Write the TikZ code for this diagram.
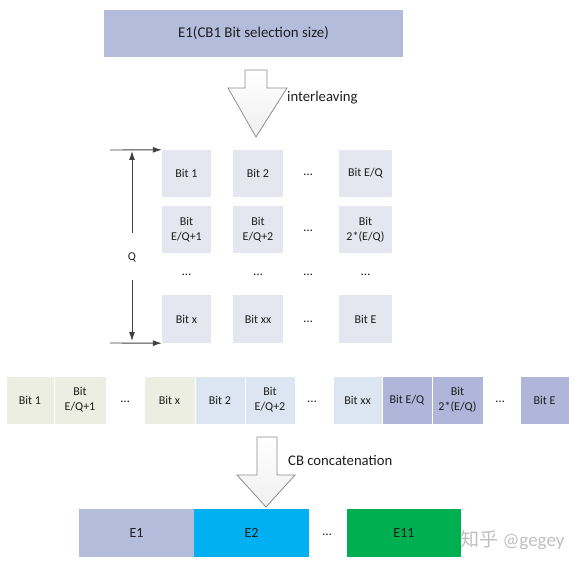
\documentclass[tikz,border=0pt]{standalone}
\usepackage{fontspec}
\setmainfont{Carlito}
\newfontfamily\cjkfont{Noto Sans CJK SC}
\usetikzlibrary{arrows.meta}
\definecolor{topfill}{RGB}{180,188,220}
\definecolor{gridfill}{RGB}{230,230,240}
\definecolor{greencell}{RGB}{236,238,226}
\definecolor{bluecell}{RGB}{220,230,242}
\definecolor{lavcell}{RGB}{176,182,218}
\definecolor{eblue}{RGB}{0,176,240}
\definecolor{egreen}{RGB}{0,176,80}
\definecolor{txt}{RGB}{30,30,30}
\definecolor{linegray}{RGB}{64,64,64}
\definecolor{arrowedge}{RGB}{140,140,140}
\begin{document}
\begin{tikzpicture}[x=1pt,y=-1pt,
  font=\fontsize{12}{15}\selectfont, text=txt,
  box/.style={inner sep=0pt, align=center, minimum height=47pt},
  gcell/.style={box, fill=gridfill, minimum width=50pt},
  rcell/.style={box, draw=white, line width=0.6pt, minimum height=48pt},
  ebox/.style={box, minimum height=48pt, minimum width=115pt, font=\fontsize{14}{16}\selectfont},
  dots/.style={inner sep=0pt, font=\fontsize{13}{15}\selectfont},
  lbl/.style={anchor=west, inner sep=0pt, font=\fontsize{14.7}{17}\selectfont},
  blockarrow/.style={draw=arrowedge, top color=white, bottom color=black!6, line width=0.8pt, line join=miter},
  side/.style={draw=linegray, line width=0.9pt, -{Latex[length=9pt,width=6pt]}}
]
\useasboundingbox (0,0) rectangle (581,567);

% top box
\node[box, fill=topfill, minimum width=299pt, minimum height=47pt,
      font=\fontsize{14.9}{17}\selectfont] (top) at (253.5,33.5) {E1(CB1 Bit selection size)};

% interleaving block arrow
\coordinate (ia) at (256,70);
\draw[blockarrow] ([xshift=-11]ia) -- ++(0,18) -- ++(-17,0) -- (256,137) -- (287,88) -- ++(-20,0) -- ([xshift=11]ia) -- cycle;
\node[lbl] (il) at (287,98) {interleaving};

% grid
\node[gcell, minimum width=49pt] (g11) at (186.5,173.5) {Bit 1};
\node[gcell] (g12) at (258,173.5) {Bit 2};
\node[dots] (d1) at (308,174.5) {\dots};
\node[gcell, minimum width=53pt] (g14) at (365.5,173.5) {Bit E/Q};

\node[gcell, minimum width=49pt] (g21) at (186.5,229.5) {Bit\\E/Q+1};
\node[gcell] (g22) at (258,229.5) {Bit\\E/Q+2};
\node[dots] (d2) at (308,230.5) {\dots};
\node[gcell, minimum width=53pt] (g24) at (365.5,229.5) {Bit\\2*(E/Q)};

\node[dots] (d31) at (186.5,275) {\dots};
\node[dots] (d32) at (258,275) {\dots};
\node[dots] (d33) at (308,275) {\dots};
\node[dots] (d34) at (365.5,275) {\dots};

\node[gcell, minimum width=49pt, minimum height=48pt] (g41) at (186.5,319) {Bit x};
\node[gcell, minimum height=48pt] (g42) at (258,319) {Bit xx};
\node[dots] (d4) at (308,322) {\dots};
\node[gcell, minimum width=53pt, minimum height=48pt] (g44) at (365.5,319) {Bit E};

% Q arrows
\coordinate (h1) at (110,150);
\coordinate (h2) at (110,343);
\draw[side] (h1) -- (g11.north west);
\draw[side] (h2) -- (g41.south west);
\node (Q) at (132,257) {Q};
\coordinate (v1) at (132,233);
\coordinate (v2) at (132,151);
\coordinate (v3) at (132,280);
\coordinate (v4) at (132,341);
\draw[side] (v1) -- (v2);
\draw[side] (v3) -- (v4);

% middle row
\node[rcell, fill=greencell, minimum width=48pt] (m1) at (30,400) {Bit 1};
\node[rcell, fill=greencell, minimum width=52pt] (m2) at (80,400) {Bit\\E/Q+1};
\node[dots] (md1) at (125,402) {\dots};
\node[rcell, fill=greencell, minimum width=51pt] (m3) at (169.5,400) {Bit x};
\node[rcell, fill=bluecell, minimum width=50pt] (m4) at (220,400) {Bit 2};
\node[rcell, fill=bluecell, minimum width=50pt] (m5) at (270,400) {Bit\\E/Q+2};
\node[dots] (md2) at (312,402) {\dots};
\node[rcell, fill=bluecell, minimum width=49pt] (m6) at (357.5,400) {Bit xx};
\node[rcell, fill=lavcell, minimum width=50pt] (m7) at (407,400) {Bit E/Q};
\node[rcell, fill=lavcell, minimum width=51pt] (m8) at (457.5,400) {Bit\\2*(E/Q)};
\node[dots] (md3) at (500,402) {\dots};
\node[rcell, fill=lavcell, minimum width=49pt] (m9) at (544.5,400) {Bit E};

% concatenation block arrow
\coordinate (ca) at (267,437);
\draw[blockarrow] ([xshift=-10]ca) -- ++(0,38) -- ++(-20,0) -- (266,507) -- (295,475) -- ++(-18,0) -- ([xshift=10]ca) -- cycle;
\node[lbl] (cl) at (288,460) {CB concatenation};

% bottom boxes
\node[ebox, fill=topfill] (e1) at (136.5,533) {E1};
\node[ebox, fill=eblue] (e2) at (251.5,533) {E2};
\node[dots] (ed) at (327,535) {\dots};
\node[ebox, fill=egreen, minimum width=114pt] (e11) at (404,533) {E11};

% watermark
\node[anchor=west, inner sep=0pt, text=black!25, font=\fontsize{19}{21}\selectfont] (wm) at (460,540) {{\cjkfont 知乎} @gegey};
\end{tikzpicture}
\end{document}
